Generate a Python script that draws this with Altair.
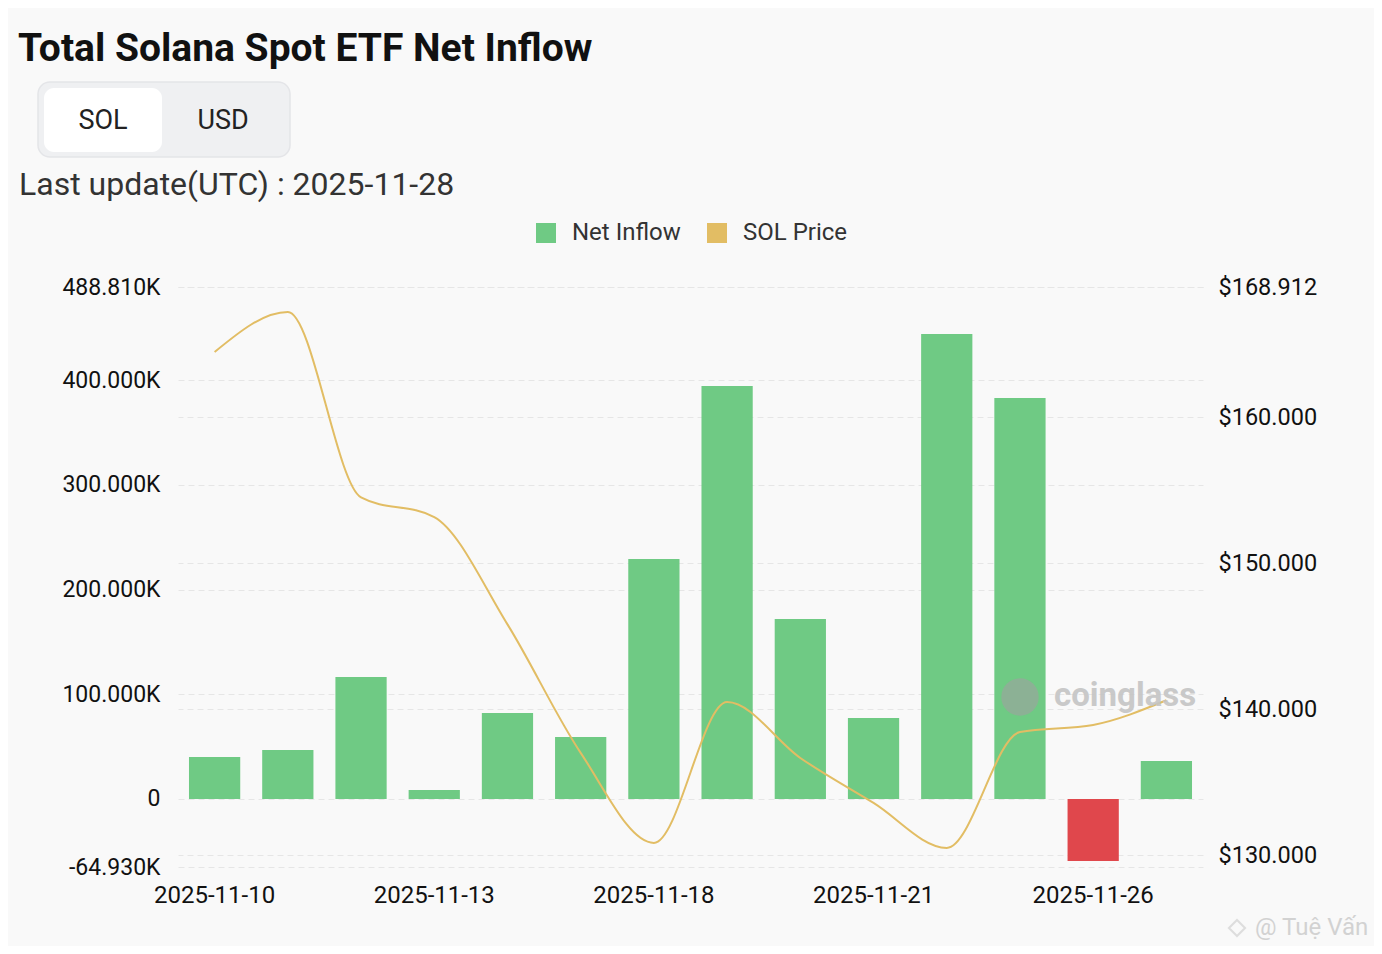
import altair as alt
import pandas as pd

# ---- data ----
dates = ["2025-11-10", "2025-11-11", "2025-11-12", "2025-11-13", "2025-11-14",
         "2025-11-17", "2025-11-18", "2025-11-19", "2025-11-20", "2025-11-21",
         "2025-11-24", "2025-11-25", "2025-11-26", "2025-11-27"]
net_inflow_k = [40.1, 46.8, 116.5, 8.6, 82.1, 59.2, 229.1, 394.3, 171.8, 77.3,
                443.9, 382.8, -59.2, 36.3]
sol_price = [164.46, 167.20, 154.5, 153.15, 145.8, 137.0, 130.83, 140.48,
             136.65, 133.57, 130.49, 138.43, 138.91, 140.6]
x_labels = ["2025-11-10", "2025-11-13", "2025-11-18", "2025-11-21", "2025-11-26"]
left_ticks = [-64.93, 0, 100, 200, 300, 400, 488.81]
right_ticks = [130, 140, 150, 160, 168.912]

df = pd.DataFrame({"date": dates, "net": net_inflow_k, "price": sol_price})
df["series"] = ["Net Inflow" if v >= 0 else "Outflow" for v in df["net"]]

GREEN = "#6fca84"
RED = "#e0474c"
GOLD = "#e2bd64"
FONT = "Roboto"

xenc = alt.X("date:O", sort=None, title=None,
             scale=alt.Scale(paddingInner=0.3, paddingOuter=0.15),
             axis=alt.Axis(values=x_labels, labelAngle=0, ticks=False, domain=False,
                           grid=False, labelFont=FONT, labelFontSize=24,
                           labelColor="#111", labelPadding=16))

color = alt.Color("series:N", title=None,
                  scale=alt.Scale(domain=["Net Inflow", "SOL Price", "Outflow"],
                                  range=[GREEN, GOLD, RED]),
                  legend=alt.Legend(values=["Net Inflow", "SOL Price"], orient="none",
                                    legendX=356, legendY=-66, direction="horizontal",
                                    symbolType="square", symbolSize=400,
                                    symbolStrokeWidth=0, labelFont=FONT,
                                    labelFontSize=24, labelColor="#333",
                                    labelOffset=14, columnPadding=24))

left_label = ("datum.value == 0 ? '0' : (datum.value < 0 ? '-' : '') + "
              "format(abs(datum.value), '.3f') + 'K'")

bars = alt.Chart(df).mark_bar().encode(
    x=xenc,
    y=alt.Y("net:Q", title=None,
            scale=alt.Scale(domain=[-64.93, 488.81], nice=False, zero=False),
            axis=alt.Axis(orient="left", values=left_ticks, labelExpr=left_label,
                          ticks=False, domain=False, grid=True, gridColor="#e6e6e6",
                          gridDash=[6, 4], labelFont=FONT, labelFontSize=23,
                          labelColor="#111", labelPadding=18, labelFlush=False,
                          labelOverlap=False)),
    color=color,
)

line = alt.Chart(df).transform_calculate(series="'SOL Price'").mark_line(
    interpolate="monotone", strokeWidth=2
).encode(
    x=alt.X("date:O", sort=None),
    y=alt.Y("price:Q", title=None,
            scale=alt.Scale(domain=[129.18, 168.912], nice=False, zero=False),
            axis=alt.Axis(orient="right", values=right_ticks, format="$.3f",
                          ticks=False, domain=False, grid=True, gridColor="#e6e6e6",
                          gridDash=[6, 4], labelFont=FONT, labelFontSize=23.5,
                          labelColor="#111", labelPadding=15, labelFlush=False,
                          labelOverlap=False)),
    color=alt.Color("series:N"),
)

one = alt.Data(values=[{"k": 1}])

title = alt.Chart(one).mark_text(
    text="Total Solana Spot ETF Net Inflow", font=FONT, fontSize=39, fontWeight="bold",
    align="left", baseline="alphabetic", color="#111"
).encode(x=alt.value(-160), y=alt.value(-226))

box_outer = alt.Chart(one).mark_rect(
    fill="#eff0f2", stroke="#e4e5e8", strokeWidth=1.5, cornerRadius=12
).encode(x=alt.value(-140), x2=alt.value(112), y=alt.value(-205), y2=alt.value(-130))

box_inner = alt.Chart(one).mark_rect(fill="#ffffff", cornerRadius=10).encode(
    x=alt.value(-134), x2=alt.value(-16), y=alt.value(-199), y2=alt.value(-135))

sol_btn = alt.Chart(one).mark_text(
    text="SOL", font=FONT, fontSize=27, align="center", baseline="middle", color="#222"
).encode(x=alt.value(-75), y=alt.value(-166))

usd_btn = alt.Chart(one).mark_text(
    text="USD", font=FONT, fontSize=27, align="center", baseline="middle", color="#222"
).encode(x=alt.value(45), y=alt.value(-166))

update = alt.Chart(one).mark_text(
    text="Last update(UTC) : 2025-11-28", font=FONT, fontSize=32, align="left",
    baseline="alphabetic", color="#333"
).encode(x=alt.value(-159), y=alt.value(-92))

wm_logo = alt.Chart(one).mark_point(
    shape="circle", filled=True, size=1400, color="#a0a0a0", opacity=0.6
).encode(x=alt.value(842), y=alt.value(410))

wm_text = alt.Chart(one).mark_text(
    text="coinglass", font=FONT, fontSize=33, fontWeight="bold", align="left",
    baseline="middle", color="#c4c4c4", opacity=0.9
).encode(x=alt.value(876), y=alt.value(409))

credit = alt.Chart(one).mark_text(
    text="@ Tuệ Vấn", font=FONT, fontSize=24, align="left", baseline="middle",
    color="#d2d2d2"
).encode(x=alt.value(1077), y=alt.value(641))

credit_icon = alt.Chart(one).mark_point(
    shape="diamond", filled=False, size=260, color="#d2d2d2", strokeWidth=2
).encode(x=alt.value(1059), y=alt.value(641))

chart = alt.layer(
    bars, line, title, box_outer, box_inner, sol_btn, usd_btn, update,
    wm_logo, wm_text, credit, credit_icon
).resolve_scale(y="independent").properties(
    width=1025, height=580,
    autosize=alt.AutoSizeParams(type="none"),
    padding={"left": 170, "top": 279, "right": 171, "bottom": 79},
    background="#f9f9f9",
).configure_view(stroke=None)

chart.save("out.html", embed_options={"renderer": "svg", "actions": False})
